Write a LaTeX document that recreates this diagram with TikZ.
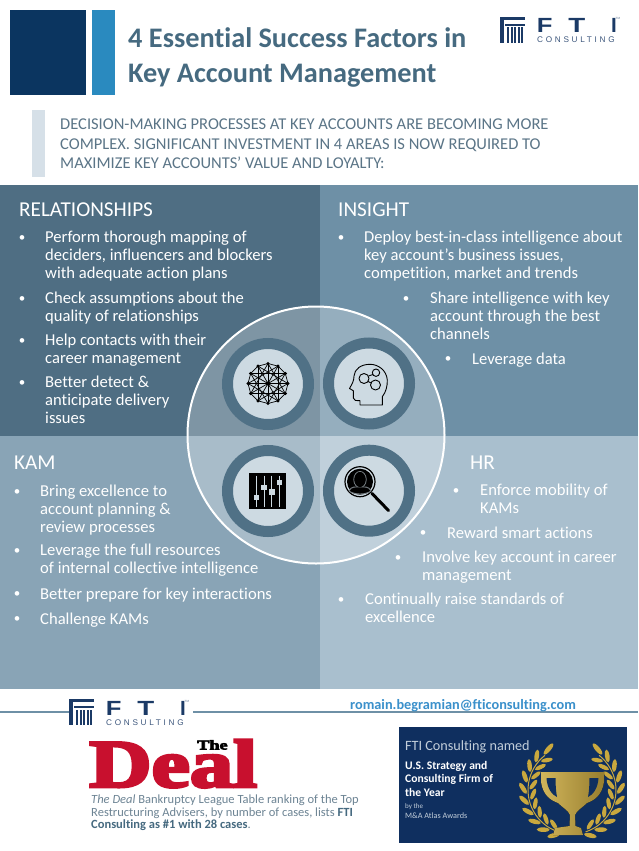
\documentclass[tikz,border=0pt]{standalone}
\usepackage{fontspec}
\usepackage{tikz}
\usetikzlibrary{positioning}
\setmainfont[Ligatures=NoCommon]{Carlito}
\newfontfamily\logofont{Liberation Sans}
\newfontfamily\logospaced[LetterSpace=33]{Liberation Sans}
\newfontfamily\dealfont[FakeBold=4]{Liberation Serif}
\definecolor{navy}{HTML}{0B3560}
\definecolor{barblue}{HTML}{2A8ABF}
\definecolor{barpale}{HTML}{D6E0E8}
\definecolor{titlecol}{HTML}{466A80}
\definecolor{introcol}{HTML}{5B7587}
\definecolor{paneltl}{HTML}{4F6E83}
\definecolor{paneltr}{HTML}{6E90A6}
\definecolor{panelbl}{HTML}{89A4B6}
\definecolor{panelbr}{HTML}{A9BFCE}
\definecolor{ringcol}{HTML}{507186}
\definecolor{ringfill}{HTML}{CDDAE2}
\definecolor{logocol}{HTML}{1B3A66}
\definecolor{mailcol}{HTML}{3A90CB}
\definecolor{dealred}{HTML}{C8102E}
\definecolor{captcol}{HTML}{6D8494}
\definecolor{badgecol}{HTML}{0F2F5F}
\definecolor{gold}{HTML}{C9A83E}
\tikzset{
  item/.style={anchor=north west, align=left, inner sep=0pt, text=white,
    font=\fontsize{16.6}{18}\selectfont, execute at begin node=\strut},
  dot/.style={inner sep=0pt, text=white, yshift=-1.5pt, font=\fontsize{13}{18}\selectfont},
  head/.style={anchor=base west, inner sep=0pt, text=white, font=\fontsize{21.2}{22}\selectfont},
  ring/.style={circle, draw=ringcol, line width=11pt, fill=ringfill, minimum size=81pt, inner sep=0pt},
  ftilogo/.pic={
    \fill[logocol] (500,17) rectangle (525,20);
    \fill[logocol] (500,20) rectangle (503.5,43);
    \fill[logocol] (505,24) rectangle (525,26);
    \foreach \c in {507,510.5,514,517.5,521}
      \fill[logocol] (\c,27.5) rectangle ++(2,15.5);
    \node[anchor=base west, inner sep=0pt, text=logocol, xscale=1.25, font=\logofont\bfseries\fontsize{20.5}{20}\selectfont] (-f) at (536.5,33) {F};
    \node[anchor=base west, inner sep=0pt, text=logocol, xscale=1.35, font=\logofont\bfseries\fontsize{20.5}{20}\selectfont] (-t) at (568,33) {T};
    \node[anchor=base west, inner sep=0pt, text=logocol, font=\logofont\bfseries\fontsize{20.5}{20}\selectfont] (-i) at (611,33) {I};
    \node[anchor=base west, inner sep=0pt, text=logocol!85, font=\logospaced\fontsize{8.2}{8}\selectfont] (-c) at (537,43) {CONSULTING};
    \node[anchor=base west, inner sep=0pt, text=logocol!70, font=\logofont\fontsize{3}{3}\selectfont] (-m) at (615.5,20) {TM};
  }
}
\begin{document}
\begin{tikzpicture}[x=1pt,y=-1pt]
\useasboundingbox (0,0) rectangle (638,851);
\fill[white] (0,0) rectangle (638,851);

\fill[navy] (10,10) rectangle (85.5,95);
\fill[barblue] (92,10) rectangle (115,95);
\fill[barpale] (32,110) rectangle (45,177);
\node[anchor=base west, inner sep=0pt, text=titlecol, font=\bfseries\fontsize{28.3}{34}\selectfont] (title1) at (128,48) {4 Essential Success Factors in};
\node[anchor=base west, inner sep=0pt, text=titlecol, font=\bfseries\fontsize{28.3}{34}\selectfont] (title2) at (128,82) {Key Account Management};
\pic (logotop) at (0,0) {ftilogo};

\node[anchor=north west, align=left, inner sep=0pt, text=introcol, font=\fontsize{16.5}{19.6}\selectfont, execute at begin node=\strut] (intro) at (60,118.5) {DECISION-MAKING PROCESSES AT KEY ACCOUNTS ARE BECOMING MORE\\COMPLEX. SIGNIFICANT INVESTMENT IN 4 AREAS IS NOW REQUIRED TO\\MAXIMIZE KEY ACCOUNTS’ VALUE AND LOYALTY:};

\fill[paneltl] (0,185) rectangle (320,436);
\fill[paneltr] (320,185) rectangle (638,436);
\fill[panelbl] (0,436) rectangle (320,689);
\fill[panelbr] (320,436) rectangle (638,689);

\fill[white, opacity=.27] (316,435) circle (128.5);
\draw[white, line width=2pt] (316,435) circle (128.5);
\node[ring] (ringtl) at (268,384) {};
\node[ring] (ringtr) at (369,383.5) {};
\node[ring] (ringbl) at (268,491) {};
\node[ring] (ringbr) at (369,490.7) {};

\node[head] (relations) at (19,216) {RELATIONSHIPS};
\node[dot] (r1b) at (22,237) {•};
\node[item] (r1) at (45,231) {Perform thorough mapping of\\deciders, influencers and blockers\\with adequate action plans};
\node[dot] (r2b) at (22,298) {•};
\node[item] (r2) at (45,292) {Check assumptions about the\\quality of relationships};
\node[dot] (r3b) at (22,340) {•};
\node[item] (r3) at (45,334) {Help contacts with their\\career management};
\node[dot] (r4b) at (22,382) {•};
\node[item] (r4) at (45,376) {Better detect \&\\anticipate delivery\\issues};

\node[head] (insight) at (338,216) {INSIGHT};
\node[dot] (i1b) at (341,237) {•};
\node[item] (i1) at (364,231) {Deploy best-in-class intelligence about\\key account’s business issues,\\competition, market and trends};
\node[dot] (i2b) at (406,298) {•};
\node[item] (i2) at (430,292) {Share intelligence with key\\account through the best\\channels};
\node[dot] (i3b) at (448,358) {•};
\node[item] (i3) at (472,352) {Leverage data};

\node[head] (kam) at (14,469) {KAM};
\node[dot] (k1b) at (17,491) {•};
\node[item] (k1) at (40,485) {Bring excellence to\\account planning \&\\review processes};
\node[dot] (k2b) at (17,550) {•};
\node[item] (k2) at (40,544) {Leverage the full resources\\of internal collective intelligence};
\node[dot] (k3b) at (17,593) {•};
\node[item] (k3) at (40,587) {Better prepare for key interactions};
\node[dot] (k4b) at (17,618) {•};
\node[item] (k4) at (40,612) {Challenge KAMs};

\node[head] (hr) at (470,469) {HR};
\node[dot] (h1b) at (456,490) {•};
\node[item] (h1) at (480,484) {Enforce mobility of\\KAMs};
\node[dot] (h2b) at (423,532) {•};
\node[item] (h2) at (447,526) {Reward smart actions};
\node[dot] (h3b) at (398,557) {•};
\node[item] (h3) at (422,551) {Involve key account in career\\management};
\node[dot] (h4b) at (341,599) {•};
\node[item] (h4) at (365,593) {Continually raise standards of\\excellence};

\foreach \a in {0,30,...,330}
  \foreach \b in {30,120}
    \draw[black, line width=.7pt] ({268+20*cos(\a)},{383.5+20*sin(\a)}) -- ({268+20*cos(\a+\b)},{383.5+20*sin(\a+\b)});
\foreach \a in {0,30,...,330} {
  \draw[black, line width=.7pt] (268,383.5) -- ({268+20*cos(\a)},{383.5+20*sin(\a)});
  \fill[black] ({268+20*cos(\a)},{383.5+20*sin(\a)}) circle (1.7);
}
\fill[black] (268,383.5) circle (2);

\draw[black, line width=.9pt, line join=round] (382.3,405) -- (382.3,396.7) .. controls (386,392) and (387.5,386) .. (387.3,380) .. controls (386.5,370) and (378,364.3) .. (370,364.3) .. controls (361,364.3) and (354.5,369) .. (354,376) .. controls (354,381) and (352,384) .. (349.5,388.5) -- (353.3,390.7) -- (353.3,398) .. controls (353.5,400.5) and (356,400.7) .. (360,400.7) -- (360,405) -- cycle;
\draw[black, line width=.9pt] (364,378.5) circle (5);
\draw[black, line width=.9pt] (376,372.7) circle (3.7);
\draw[black, line width=.9pt] (375.5,385) circle (5);
\draw[black, line width=.9pt] (368.5,376) -- (373,374.5);
\draw[black, line width=.9pt] (368,381.5) -- (371.3,383);

\fill[black] (249.3,472.7) rectangle (286,509.3);
\foreach \c/\k in {256.3/497.3, 264/487.3, 271.7/491.7, 279.3/482.3} {
  \draw[ringfill, line width=1pt] (\c,475.7) -- (\c,506.7);
  \fill[ringfill] (\c-2.8,\k-2.8) rectangle (\c+2.8,\k+2.8);
}

\draw[black, line width=3pt, line cap=round] (372,493.5) -- (388.5,510.5);
\draw[black, line width=1.2pt] (360,481.7) circle (15);
\fill[black] (360,481.7) circle (13);
\draw[ringfill!60!black, line width=.9pt, fill=black] (360,479.5) ellipse (6.2 and 8);
\draw[ringfill!60!black, line width=.9pt, fill=black] (349,491) .. controls (351,486) and (356,487) .. (360,487) .. controls (364,487) and (369,486) .. (371,491) .. controls (366,495) and (354,495) .. (349,491);
\fill[black] (360,479.5) ellipse (5.5 and 7.5);

\draw[paneltr, line width=2pt] (0,712) -- (69,712);
\draw[paneltr, line width=2pt] (193,712) -- (638,712);
\pic (logobot) at (-431,682) {ftilogo};
\node[anchor=base west, inner sep=0pt, text=mailcol, font=\bfseries\fontsize{14.3}{16}\selectfont] (mail) at (350,709) {romain.begramian@fticonsulting.com};

\node[anchor=base west, inner sep=0pt, text=dealred, xscale=1.27, font=\dealfont\bfseries\fontsize{68}{68}\selectfont] (deal) at (89,787) {Deal};
\node[anchor=base west, inner sep=0pt, text=black, xscale=1.35, font=\dealfont\bfseries\fontsize{13.5}{14}\selectfont] (the) at (197,749.5) {The};
\node[anchor=north west, align=left, inner sep=0pt, text=captcol, font=\fontsize{12.5}{12.4}\selectfont, execute at begin node=\strut] (caption) at (91,795) {\textit{The Deal} Bankruptcy League Table ranking of the Top\\Restructuring Advisers, by number of cases, lists \textbf{\color{titlecol}FTI}\\\textbf{\color{titlecol}Consulting as \#1 with 28 cases}.};

\fill[badgecol] (399,727) rectangle (627,843);
\node[anchor=base west, inner sep=0pt, text=barpale!90!badgecol, font=\fontsize{14.2}{16}\selectfont] (named) at (405,750.5) {FTI Consulting named};
\node[anchor=north west, align=left, inner sep=0pt, text=white, font=\bfseries\fontsize{11.6}{13.5}\selectfont, execute at begin node=\strut] (award) at (405,761) {U.S. Strategy and\\Consulting Firm of\\the Year};
\node[anchor=base west, inner sep=0pt, text=barpale!90!badgecol, font=\fontsize{7}{8}\selectfont] (bythe) at (405,808) {by the};
\node[anchor=base west, inner sep=0pt, text=barpale!90!badgecol, font=\fontsize{8.2}{9}\selectfont] (atlas) at (405,818) {M\&A Atlas Awards};

\draw[gold, line width=1pt] plot[domain=108:232, samples=24] ({572+44*cos(\x)},{790+44*sin(\x)});
\draw[gold, line width=1pt] plot[domain=72:-52, samples=24] ({572+44*cos(\x)},{790+44*sin(\x)});
\foreach \a in {112,126,...,224} {
  \fill[gold] ({572+49*cos(\a)},{790+49*sin(\a)}) ellipse [x radius=6.5, y radius=2.3, rotate={-\a-55}];
  \fill[gold] ({572+39*cos(\a+6)},{790+39*sin(\a+6)}) ellipse [x radius=6, y radius=2.1, rotate={-\a-125}];
}
\foreach \a in {68,54,...,-44} {
  \fill[gold] ({572+49*cos(\a)},{790+49*sin(\a)}) ellipse [x radius=6.5, y radius=2.3, rotate={-\a+55}];
  \fill[gold] ({572+39*cos(\a-6)},{790+39*sin(\a-6)}) ellipse [x radius=6, y radius=2.1, rotate={-\a+125}];
}
\fill[gold] (548.5,749) ellipse [x radius=7, y radius=2.4, rotate=50];
\fill[gold] (597.5,749) ellipse [x radius=7, y radius=2.4, rotate=-50];
\fill[left color=gold!85!white, right color=gold!75!black] (541,772) -- (604,772) -- (604,782) .. controls (602,795) and (595,800) .. (587,803) .. controls (582,808) and (577,810) .. (575,815) -- (575.5,826) -- (581,828) -- (583,835) -- (553,835) -- (555,828) -- (569.5,826) -- (570,815) .. controls (568,810) and (563,808) .. (558,803) .. controls (550,800) and (543,795) .. (541,782) -- cycle;
\fill[badgecol] (546.5,778) -- (555.5,778) .. controls (555.5,785) and (556,792) .. (557,797) .. controls (552,795) and (547,788) .. (546.5,778) -- cycle;
\fill[badgecol] (598.5,778) -- (589.5,778) .. controls (589.5,785) and (589,792) .. (588,797) .. controls (593,795) and (598,788) .. (598.5,778) -- cycle;
\end{tikzpicture}
\end{document}
